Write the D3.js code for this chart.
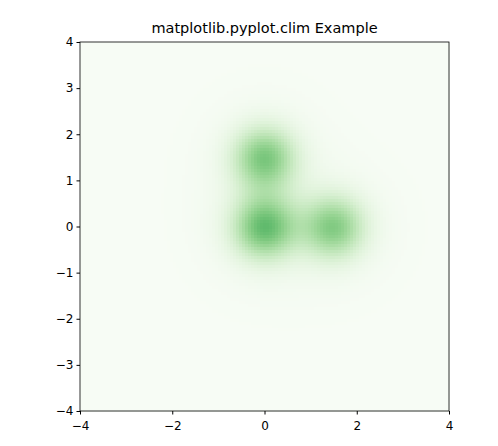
<!DOCTYPE html>
<html><head><meta charset="utf-8">
<script src="https://cdn.jsdelivr.net/npm/d3@7"></script>
<style>body{margin:0;background:#fff}text{font-family:"DejaVu Sans",sans-serif}</style>
</head><body><svg id="c" width="498" height="446"></svg>
<script>
const title = "matplotlib.pyplot.clim Example";
const ticks = [-4,-3,-2,-1,0,1,2,3,4];
const xTicks = [-4,-2,0,2,4];
const blobX = [0, 0, 1.5];
const blobY = [0, 1.5, 0];
const blobAmp = [1.0, 0.9, 0.85];
const blobSigma = [0.48, 0.48, 0.48];
const haloAmp = [0.1, 0.08, 0.08];
const haloSigma = [0.9, 0.9, 0.9];
const clim = [0, 2.1];

const svg = d3.select("#c");
const L=80,R=449,T=42,B=411;
const x = d3.scaleLinear().domain([-4,4]).range([L,R]);
const y = d3.scaleLinear().domain([-4,4]).range([B,T]);
const color = d3.scaleSequential(d3.interpolateGreens).domain(clim).clamp(true);
const N=123, step=8/N;
const cells=[];
for(let i=0;i<N;i++)for(let j=0;j<N;j++){
  const cx=-4+(i+0.5)*step, cy=-4+(j+0.5)*step;
  let v=0;
  for(let k=0;k<blobX.length;k++){
    const d2=(cx-blobX[k])**2+(cy-blobY[k])**2;
    v+=blobAmp[k]*Math.exp(-d2/(2*blobSigma[k]**2))+haloAmp[k]*Math.exp(-d2/(2*haloSigma[k]**2));
  }
  cells.push({x0:-4+i*step,y0:-4+j*step,v});
}
svg.append("g").selectAll("rect").data(cells).join("rect")
  .attr("x",d=>x(d.x0)).attr("y",d=>y(d.y0+step))
  .attr("width",x(step)-x(0)+0.5).attr("height",y(0)-y(step)+0.5)
  .attr("fill",d=>color(d.v)).attr("shape-rendering","crispEdges");
svg.append("rect").attr("x",L).attr("y",T).attr("width",R-L).attr("height",B-T)
  .attr("fill","none").attr("stroke","#000").attr("stroke-width",0.8);
const ax=svg.append("g").attr("transform",`translate(0,${B})`).call(d3.axisBottom(x).tickValues(xTicks).tickFormat(d=>d<0?"−"+(-d):d).tickSizeOuter(0).tickSize(3.5));
const ay=svg.append("g").attr("transform",`translate(${L},0)`).call(d3.axisLeft(y).tickValues(ticks).tickFormat(d=>d<0?"−"+(-d):d).tickSizeOuter(0).tickSize(3.5));
[ax,ay].forEach(a=>{a.select(".domain").remove();a.attr("font-size",12);a.selectAll("text").attr("fill","#000");a.selectAll("line").attr("stroke","#000");});
ax.selectAll("text").attr("dy","1em");
svg.append("text").attr("x",(L+R)/2).attr("y",T-9).attr("text-anchor","middle").attr("font-size",14.5).text(title);
</script></body></html>
